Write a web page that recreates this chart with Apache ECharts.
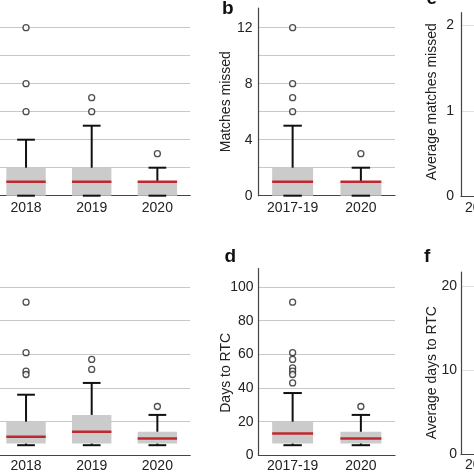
<!DOCTYPE html>
<html>
<head>
<meta charset="utf-8">
<script src="https://cdn.jsdelivr.net/npm/echarts@6/dist/echarts.min.js"></script>
<style>html,body{margin:0;padding:0;background:#fff}#c{width:474px;height:474px}</style>
</head>
<body>
<div id="c"></div>
<script>
// ---------- data ----------
var catsYear = ['2018', '2019', '2020'];
var catsPeriod = ['2017-19', '2020'];
// box stats: [min, Q1, median, Q3, max]
var matchesByYear = [[0, 0, 1, 2, 4], [0, 0, 1, 2, 5], [0, 0, 1, 1, 2]];
var matchesByYearOut = [[12, 8, 6], [7, 6], [3]];
var matchesByPeriod = [[0, 0, 1, 2, 5], [0, 0, 1, 1, 2]];
var matchesByPeriodOut = [[12, 8, 7, 6], [3]];
var daysByYear = [[6, 7, 11, 20, 36], [6, 7, 14, 24, 43], [6, 7, 10, 14, 24]];
var daysByYearOut = [[91, 61, 50, 48], [57, 51], [29]];
var daysByPeriod = [[6, 7, 13, 20, 37], [6, 7, 10, 14, 24]];
var daysByPeriodOut = [[91, 61, 57, 52, 50, 48, 43], [29]];
var avgCats = ['2017-19', '2020'];

// ---------- helpers ----------
var FONT = 'Liberation Sans, Arial, sans-serif';
var GRID = '#c8c8c8';
var AXIS = '#444';

function boxData(stats) {
  return stats.map(function (s, i) { return [i].concat(s); });
}
function outData(outs) {
  var r = [];
  outs.forEach(function (arr, i) { arr.forEach(function (v) { r.push([i, v]); }); });
  return r;
}
function renderBox(params, api) {
  var c = api.value(0);
  var mn = api.coord([c, api.value(1)]);
  var q1 = api.coord([c, api.value(2)]);
  var md = api.coord([c, api.value(3)]);
  var q3 = api.coord([c, api.value(4)]);
  var mx = api.coord([c, api.value(5)]);
  var band = api.size([1, 0])[0];
  var bw = band * 0.6, cw = band * 0.27;
  var x = md[0];
  var blk = { stroke: '#111', lineWidth: 2 };
  return {
    type: 'group',
    children: [
      { type: 'rect', shape: { x: x - bw / 2, y: q3[1], width: bw, height: q1[1] - q3[1] }, style: { fill: '#cbcbcb' } },
      { type: 'line', shape: { x1: x, y1: q3[1], x2: x, y2: mx[1] }, style: blk },
      { type: 'line', shape: { x1: x - cw / 2, y1: mx[1], x2: x + cw / 2, y2: mx[1] }, style: blk },
      { type: 'line', shape: { x1: x, y1: q1[1], x2: x, y2: mn[1] }, style: blk },
      { type: 'line', shape: { x1: x - cw / 2, y1: mn[1], x2: x + cw / 2, y2: mn[1] }, style: blk },
      { type: 'line', shape: { x1: x - bw / 2, y1: md[1], x2: x + bw / 2, y2: md[1] }, style: { stroke: '#c0282f', lineWidth: 2.5 } }
    ]
  };
}
function splitColors(n, color) {
  var a = [];
  for (var i = 0; i < n; i++) a.push(color);
  a.push('rgba(0,0,0,0)');
  return a;
}
function xAx(idx, cats, margin) {
  return {
    type: 'category', gridIndex: idx, data: cats,
    axisLine: { show: true, lineStyle: { color: AXIS, width: 1.2 } },
    axisTick: { show: false },
    axisLabel: { fontSize: 14, color: '#222', fontFamily: FONT, margin: margin },
    splitLine: { show: false }
  };
}
function yAx(idx, max, interval, nLines, labelStep, showLine, margin, gridColor) {
  return {
    type: 'value', gridIndex: idx, min: 0, max: max, interval: interval,
    axisLine: { show: showLine, lineStyle: { color: AXIS, width: 1.2 } },
    axisTick: { show: false },
    axisLabel: {
      show: showLine, fontSize: 14, color: '#222', fontFamily: FONT, margin: margin,
      formatter: function (v) { return (Math.abs(v / labelStep - Math.round(v / labelStep)) < 1e-6) ? String(v) : ''; }
    },
    splitLine: { show: true, lineStyle: { color: splitColors(nLines, gridColor), width: 1.2 } }
  };
}
function boxSeries(idx, stats) {
  return {
    type: 'custom', xAxisIndex: idx, yAxisIndex: idx, renderItem: renderBox,
    encode: { x: 0, y: [1, 2, 3, 4, 5] }, data: boxData(stats), z: 3
  };
}
function outSeries(idx, outs) {
  return {
    type: 'scatter', xAxisIndex: idx, yAxisIndex: idx, data: outData(outs),
    symbol: 'circle', symbolSize: 6,
    itemStyle: { color: '#fff', borderColor: '#222', borderWidth: 1.3 }, z: 4
  };
}
function nameText(txt, x, y) {
  return {
    type: 'text', x: x, y: y, rotation: Math.PI / 2,
    style: { text: txt, x: 0, y: 0, textAlign: 'center', textVerticalAlign: 'middle', font: '14px ' + FONT, fill: '#222' }
  };
}
function letter(txt, x, y) {
  return {
    type: 'text', x: x, y: y,
    style: { text: txt, x: 0, y: 0, textAlign: 'left', textVerticalAlign: 'middle', font: 'bold 19px ' + FONT, fill: '#111' }
  };
}

var chart = echarts.init(document.getElementById('c'), null, { renderer: 'canvas' });
chart.setOption({
  backgroundColor: '#fff',
  animation: false,
  grid: [
    { left: -6.8, top: 8.1, width: 197, height: 187.6, outerBoundsMode: 'none' },
    { left: 258.5, top: 8.1, width: 136.5, height: 187.6, outerBoundsMode: 'none' },
    { left: 461, top: 12.7, width: 118.8, height: 183.8, outerBoundsMode: 'none' },
    { left: -6.8, top: 268.5, width: 197, height: 186.8, outerBoundsMode: 'none' },
    { left: 258.5, top: 268.5, width: 136.5, height: 186.8, outerBoundsMode: 'none' },
    { left: 461, top: 272, width: 118.8, height: 182.3, outerBoundsMode: 'none' }
  ],
  xAxis: [
    xAx(0, catsYear, 5), xAx(1, catsPeriod, 5), xAx(2, avgCats, 5),
    xAx(3, catsYear, 4), xAx(4, catsPeriod, 4), xAx(5, avgCats, 4)
  ],
  yAxis: [
    yAx(0, 13.4, 2, 7, 4, false, 6, GRID),
    yAx(1, 13.4, 2, 7, 4, true, 6, GRID),
    yAx(2, 2.15, 1, 3, 1, true, 7, '#e2e2e2'),
    yAx(3, 111, 20, 6, 20, false, 5, GRID),
    yAx(4, 111, 20, 6, 20, true, 5, GRID),
    yAx(5, 21.7, 10, 3, 10, true, 4, '#e2e2e2')
  ],
  series: [
    boxSeries(0, matchesByYear), outSeries(0, matchesByYearOut),
    boxSeries(1, matchesByPeriod), outSeries(1, matchesByPeriodOut),
    boxSeries(3, daysByYear), outSeries(3, daysByYearOut),
    boxSeries(4, daysByPeriod), outSeries(4, daysByPeriodOut)
  ],
  graphic: [
    letter('b', 222, 8.5),
    letter('e', 426.5, -1.5),
    letter('d', 224.5, 257.2),
    letter('f', 424, 257.2),
    nameText('Matches missed', 226, 101.7),
    nameText('Days to RTC', 226, 372.8),
    nameText('Average matches missed', 431.7, 101.7),
    nameText('Average days to RTC', 431.7, 372.7)
  ]
});
</script>
</body>
</html>
